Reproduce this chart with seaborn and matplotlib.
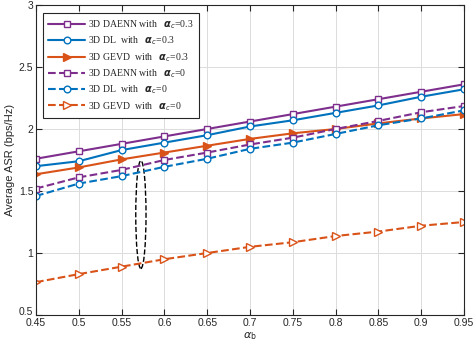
import numpy as np
import pandas as pd
import matplotlib
matplotlib.use("Agg")
import matplotlib.pyplot as plt
import matplotlib.transforms as mtransforms
from matplotlib.patches import Ellipse
import seaborn as sns

# =============================================================================
# DATA
# =============================================================================

ALPHA_B = [0.45, 0.50, 0.55, 0.60, 0.65, 0.70, 0.75, 0.80, 0.85, 0.90, 0.95]

DAENN_03 = [1.76, 1.82, 1.88, 1.94, 2.00, 2.06, 2.12, 2.18, 2.24, 2.30, 2.36]
DL_03 = [1.70, 1.74, 1.83, 1.89, 1.95, 2.02, 2.07, 2.13, 2.19, 2.26, 2.32]
GEVD_03 = [1.635, 1.69, 1.755, 1.81, 1.865, 1.92, 1.965, 2.00, 2.045, 2.085, 2.12]
DAENN_0 = [1.52, 1.61, 1.67, 1.75, 1.81, 1.875, 1.93, 2.00, 2.065, 2.135, 2.185]
DL_0 = [1.46, 1.56, 1.62, 1.695, 1.76, 1.84, 1.89, 1.96, 2.03, 2.085, 2.15]
GEVD_0 = [0.765, 0.83, 0.89, 0.95, 1.00, 1.05, 1.087, 1.137, 1.173, 1.22, 1.25]

LABELS = [
    r"3D DAENN with   $\boldsymbol{\alpha}_c$=0.3",
    r"3D DL  with   $\boldsymbol{\alpha}_c$=0.3",
    r"3D GEVD  with   $\boldsymbol{\alpha}_c$=0.3",
    r"3D DAENN with   $\boldsymbol{\alpha}_c$=0",
    r"3D DL  with   $\boldsymbol{\alpha}_c$=0",
    r"3D GEVD  with   $\boldsymbol{\alpha}_c$=0",
]
SERIES = [DAENN_03, DL_03, GEVD_03, DAENN_0, DL_0, GEVD_0]

X_TICKS = [0.45, 0.5, 0.55, 0.6, 0.65, 0.7, 0.75, 0.8, 0.85, 0.9, 0.95]
X_TICK_LABELS = ["0.45", "0.5", "0.55", "0.6", "0.65", "0.7",
                 "0.75", "0.8", "0.85", "0.9", "0.95"]
Y_TICKS = [0.5, 1, 1.5, 2, 2.5, 3]
Y_TICK_LABELS = ["0.5", "1", "1.5", "2", "2.5", "3"]

# =============================================================================
# STYLE
# =============================================================================

PURPLE = "#7E2F8E"
BLUE = "#0072BD"
ORANGE = "#D95319"

STYLES = [
    dict(color=PURPLE, marker="s", ls="-", mfc="white", ms=4.6),
    dict(color=BLUE, marker="o", ls="-", mfc="white", ms=4.8),
    dict(color=ORANGE, marker=">", ls="-", mfc=ORANGE, ms=5.2),
    dict(color=PURPLE, marker="s", ls="--", mfc="white", ms=4.6),
    dict(color=BLUE, marker="o", ls="--", mfc="white", ms=4.8),
    dict(color=ORANGE, marker=">", ls="--", mfc="white", ms=5.8),
]


def main() -> None:
    sns.set_theme(style="whitegrid")
    plt.rcParams["font.family"] = ["Liberation Sans", "DejaVu Sans"]
    plt.rcParams["mathtext.fontset"] = "dejavusans"

    fig = plt.figure(figsize=(4.74, 3.52), dpi=100)
    ax = fig.add_axes([0.076, 0.105, 0.903, 0.881])
    ax.set_facecolor("white")

    for vals, lab, st in zip(SERIES, LABELS, STYLES):
        df = pd.DataFrame({"alpha_b": ALPHA_B, "asr": vals})
        sns.lineplot(
            data=df, x="alpha_b", y="asr", ax=ax, label=lab,
            color=st["color"], linestyle=st["ls"], linewidth=1.5,
            marker=st["marker"], markersize=st["ms"], markeredgewidth=1.0,
            markerfacecolor=st["mfc"], markeredgecolor=st["color"],
        )

    # dashed ellipse marking the gap at alpha_b ~ 0.57
    ax.add_patch(Ellipse((0.5725, 1.31), 0.012, 0.87, fill=False,
                         edgecolor="black", linestyle="--", linewidth=1.0))

    ax.set_xlim(0.45, 0.95)
    ax.set_ylim(0.5, 3)
    ax.set_xticks(X_TICKS)
    ax.set_xticklabels(X_TICK_LABELS)
    ax.set_yticks(Y_TICKS)
    ax.set_yticklabels(Y_TICK_LABELS)
    ax.set_xlabel(r"$\alpha_{\rm b}$", fontsize=8, labelpad=2)
    ax.set_ylabel("Average ASR (bps/Hz)", fontsize=8, labelpad=3)
    ax.tick_params(axis="both", which="both", direction="in", length=4,
                   width=0.8, labelsize=7.5, colors="#262626",
                   top=True, right=True, bottom=True, left=True, pad=2)
    ax.grid(True, color="#dcdcdc", linewidth=0.7)
    for sp in ax.spines.values():
        sp.set_edgecolor("#262626")
        sp.set_linewidth(0.8)

    # lift the lowest y tick label a little, as in the original (MATLAB-style)
    lowest = ax.get_yticklabels()[0]
    lowest.set_transform(lowest.get_transform() + mtransforms.ScaledTranslation(
        0, 3 / 72, fig.dpi_scale_trans))

    leg = ax.legend(
        loc="upper left", bbox_to_anchor=(0.016, 0.974),
        prop={"family": ["Liberation Serif", "DejaVu Serif"], "size": 7},
        frameon=True, fancybox=False, edgecolor="#262626",
        handlelength=3.8, labelspacing=0.36, borderpad=0.55,
        handletextpad=0.3, borderaxespad=0.0,
    )
    leg.get_frame().set_linewidth(0.8)
    leg.get_frame().set_facecolor("white")
    leg.get_frame().set_alpha(1.0)

    fig.savefig("out.png", dpi=100)
    plt.close(fig)


if __name__ == "__main__":
    main()
